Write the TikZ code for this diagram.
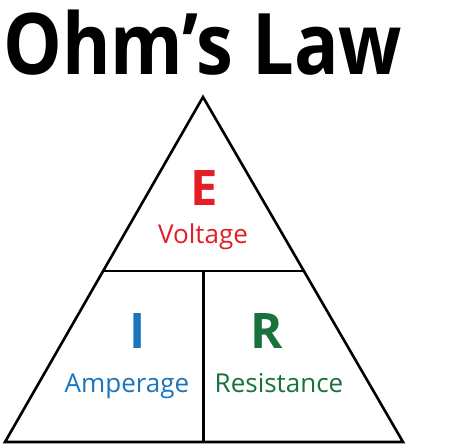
\documentclass[tikz,border=0pt]{standalone}
\usepackage{fontspec}
\setmainfont{Open Sans}
\usetikzlibrary{calc}
\definecolor{ered}{HTML}{E31E26}
\definecolor{iblue}{HTML}{1B75BC}
\definecolor{rgreen}{HTML}{17723C}
\tikzset{
  edge/.style={line width=2.6pt, line join=miter, black},
  letter/.style={anchor=base, inner sep=0pt, font=\fontsize{49}{49}\selectfont\bfseries},
  word/.style={anchor=base, inner sep=0pt, font=\fontsize{26}{26}\selectfont},
}
\begin{document}
\begin{tikzpicture}[x=1pt,y=-1pt]
\useasboundingbox (0,0) rectangle (474,445);
\fill[white] (0,0) rectangle (474,445);
\node[anchor=base west, inner sep=0pt, xscale=0.87, font=\fontsize{85}{85}\selectfont\bfseries] (title) at (3,74) {Ohm’s Law};
\coordinate (apex) at (203,97);
\coordinate (bl) at (5,442);
\coordinate (br) at (403,442);
\coordinate (ml) at ($(apex)!0.504!(bl)$);
\coordinate (mr) at ($(apex)!0.504!(br)$);
\coordinate (mm) at ($(ml)!0.5!(mr)$);
\coordinate (bm) at (bl -| mm);
\draw[edge] (apex) -- (br) -- (bl) -- cycle;
\draw[edge] (ml) -- (mr);
\draw[edge] (mm) -- (bm);
\node[letter, text=ered] (E) at (204,205) {E};
\node[word, text=ered] (V) at (203,243) {Voltage};
\node[letter, text=iblue] (I) at (138,348) {I};
\node[word, text=iblue] (A) at (127,392) {Amperage};
\node[letter, text=rgreen] (R) at (267,348) {R};
\node[word, text=rgreen] (Rs) at (279,392) {Resistance};
\end{tikzpicture}
\end{document}
